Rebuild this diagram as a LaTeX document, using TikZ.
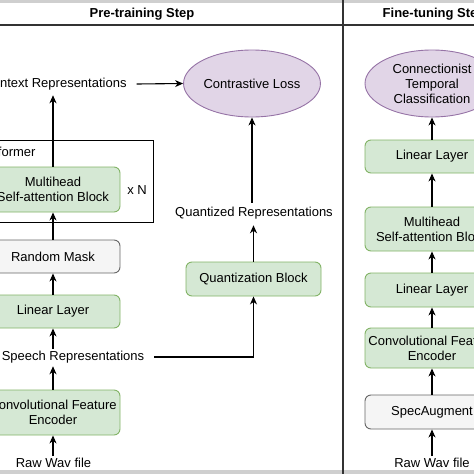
\documentclass[tikz,border=0pt]{standalone}
\usepackage{fontspec}
\setmainfont{Liberation Sans}
\usetikzlibrary{arrows.meta,shapes.geometric}
\definecolor{gfill}{HTML}{D5E8D4}
\definecolor{gdraw}{HTML}{82B366}
\definecolor{pfill}{HTML}{E1D5E7}
\definecolor{pdraw}{HTML}{9673A6}
\definecolor{kfill}{HTML}{F5F5F5}
\definecolor{kdraw}{HTML}{666666}
\definecolor{band}{HTML}{CFCFCF}
\definecolor{rule}{HTML}{333333}
\tikzset{
  every node/.style={font=\fontsize{13}{15}\selectfont, align=center, inner sep=0pt},
  greenbox/.style={draw=gdraw, fill=gfill, rounded corners=6pt, line width=0.9pt, minimum width=134pt},
  graybox/.style={draw=kdraw, fill=kfill, rounded corners=6pt, line width=0.9pt, minimum width=134pt},
  lossell/.style={ellipse, draw=pdraw, fill=pfill, line width=0.9pt, minimum width=134pt, minimum height=67pt},
  arr/.style={-{Stealth[length=8pt,width=7pt,inset=2.5pt]}, line width=1.1pt},
  plain/.style={line width=1pt},
  head/.style={font=\fontsize{13}{15}\selectfont\bfseries}
}
\begin{document}
\begin{tikzpicture}[x=1pt,y=-1pt]
\useasboundingbox (0,0) rectangle (474,474);
\clip (0,0) rectangle (474,474);
% frame
\fill[band] (0,0) rectangle (474,2.5);
\fill[band] (0,470) rectangle (474,474);
\draw[rule, line width=1.2pt] (0,25) -- (474,25);
\draw[rule, line width=1.2pt] (343,0) -- (343,474);
\node[head] (h1) at (142,14) {Pre-training Step};
\node[head] (h2) at (434,14) {Fine-tuning Step};

% ---- pre-training ----
\draw[plain] (-38,140) rectangle (153,222);
\node[anchor=west] (tf) at (-35,152) {Transformer};
\node[greenbox, minimum height=45pt] (mh) at (53,189.5) {Multihead\\Self-attention Block};
\node (xn) at (137,190) {x N};
\node[graybox, minimum height=33pt] (rm) at (53,256.5) {Random Mask};
\node[greenbox, minimum height=33pt] (ll) at (53,311.5) {Linear Layer};
\node (sr) at (73,357) {Speech Representations};
\node[greenbox, minimum height=45pt] (cfe) at (53,412.5) {Convolutional Feature\\Encoder};
\node (raw) at (53.5,463) {Raw Wav file};
\node (ctx) at (55,84) {Context Representations};
\node[lossell] (cl) at (252,83.5) {Contrastive Loss};
\node[greenbox, minimum width=135pt, minimum height=34pt] (qb) at (253.5,279) {Quantization Block};
\node (qr) at (254,213) {Quantized Representations};

\draw[arr] ([yshift=2pt]raw.north -| cfe.south) -- (cfe.south);
\draw[arr] (cfe.north) -- ([yshift=-3pt]cfe.north |- sr.south);
\draw[arr] ([yshift=2pt]ll.south |- sr.north) -- (ll.south);
\draw[arr] (ll.north) -- (rm.south);
\draw[arr] (rm.north) -- (mh.south);
\draw[arr] (mh.north) -- ([yshift=-5pt]mh.north |- ctx.south);
\draw[arr] ([xshift=10pt]ctx.east) -- (cl.west);
\draw[arr] ([xshift=10pt]sr.east) -- (sr.east -| qb.south) -- (qb.south);
\draw[arr] (qb.north) -- ([yshift=-6pt]qb.north |- qr.south);
\draw[arr] ([yshift=4pt]qr.north -| cl.south) -- (cl.south);

% ---- fine-tuning ----
\node[lossell] (ctc) at (432,83.5) {Connectionist\\Temporal\\Classification};
\node[greenbox, minimum height=33pt] (ll2) at (432,156.5) {Linear Layer};
\node[greenbox, minimum height=44pt] (mh2) at (432,229) {Multihead\\Self-attention Block};
\node[greenbox, minimum height=34pt] (ll3) at (432,290) {Linear Layer};
\node[greenbox, minimum height=40pt] (cfe2) at (432,348) {Convolutional Feature\\Encoder};
\node[graybox, minimum height=34pt] (sa) at (432,412) {SpecAugment};
\node (raw2) at (432,463) {Raw Wav file};

\draw[arr] ([yshift=2pt]raw2.north) -- (sa.south);
\draw[arr] (sa.north) -- (cfe2.south);
\draw[arr] (cfe2.north) -- (ll3.south);
\draw[arr] (ll3.north) -- (mh2.south);
\draw[arr] (mh2.north) -- (ll2.south);
\draw[arr] (ll2.north) -- (ctc.south);
\end{tikzpicture}
\end{document}
